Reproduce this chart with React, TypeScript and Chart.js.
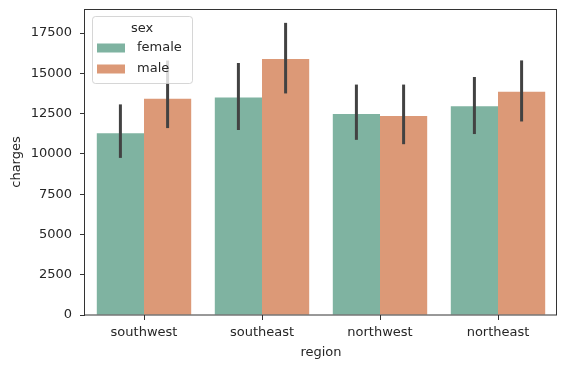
import React, { useEffect, useRef } from "react";
import { Chart, registerables } from "chart.js";

Chart.register(...registerables);

const categories = ["southwest", "southeast", "northwest", "northeast"];
const femaleMeans = [11274, 13500, 12479, 12953];
const maleMeans = [13413, 15880, 12354, 13855];
const femaleLow = [9750, 11480, 10870, 11230];
const femaleHigh = [13070, 15640, 14300, 14770];
const maleLow = [11600, 13750, 10600, 12010];
const maleHigh = [15790, 18130, 14300, 15800];
const yTicks = [0, 2500, 5000, 7500, 10000, 12500, 15000, 17500];
const seriesLabels = ["female", "male"];
const legendTitle = "sex";

const FEMALE = "#7fb3a1";
const MALE = "#dc9977";
const FONT = "DejaVu Sans";
const TEXT = "#262626";

const errorBars = {
  id: "errorBars",
  afterDatasetsDraw(chart: any) {
    const ctx = chart.ctx;
    const y = chart.scales.y;
    const lows = [femaleLow, maleLow];
    const highs = [femaleHigh, maleHigh];
    ctx.save();
    ctx.strokeStyle = "#424242";
    ctx.lineWidth = 3;
    ctx.lineCap = "butt";
    for (let d = 0; d < 2; d++) {
      const meta = chart.getDatasetMeta(d);
      meta.data.forEach((el: any, j: number) => {
        ctx.beginPath();
        ctx.moveTo(el.x, y.getPixelForValue(lows[d][j]));
        ctx.lineTo(el.x, y.getPixelForValue(highs[d][j]));
        ctx.stroke();
      });
    }
    ctx.restore();
  },
};

const frameAndLegend = {
  id: "frameAndLegend",
  afterDraw(chart: any) {
    const ctx = chart.ctx;
    const a = chart.chartArea;
    ctx.save();
    ctx.strokeStyle = "#333333";
    ctx.lineWidth = 1;
    ctx.strokeRect(Math.round(a.left) - 0.5, Math.round(a.top) + 0.5, Math.round(a.right - a.left), Math.round(a.bottom - a.top) - 0.5);

    // legend
    const lx = a.left + 7, ly = a.top + 7, lw = 100, lh = 67;
    ctx.beginPath();
    (ctx as any).roundRect(lx + 0.5, ly + 0.5, lw, lh, 3);
    ctx.fillStyle = "rgba(255,255,255,0.8)";
    ctx.fill();
    ctx.strokeStyle = "rgba(204,204,204,0.8)";
    ctx.stroke();
    ctx.fillStyle = TEXT;
    ctx.font = `13px "${FONT}"`;
    ctx.textBaseline = "middle";
    ctx.textAlign = "center";
    ctx.fillText(legendTitle, lx + 50, ly + 13);
    ctx.textAlign = "left";
    const colors = [FEMALE, MALE];
    seriesLabels.forEach((lab, i) => {
      const cy = ly + 32 + i * 21;
      ctx.fillStyle = colors[i];
      ctx.fillRect(lx + 5, cy - 4.5, 28, 9);
      ctx.fillStyle = TEXT;
      ctx.fillText(lab, lx + 45, cy);
    });
    ctx.restore();
  },
};

export default function App() {
  const ref = useRef<HTMLCanvasElement>(null);
  useEffect(() => {
    document.body.style.margin = "0";
    const chart = new Chart(ref.current!, {
      type: "bar",
      data: {
        labels: categories,
        datasets: [
          { label: seriesLabels[0], data: femaleMeans, backgroundColor: FEMALE, borderWidth: 0, categoryPercentage: 0.8, barPercentage: 1.0 },
          { label: seriesLabels[1], data: maleMeans, backgroundColor: MALE, borderWidth: 0, categoryPercentage: 0.8, barPercentage: 1.0 },
        ],
      },
      options: {
        animation: false,
        responsive: false,
        devicePixelRatio: 1,
        layout: { padding: { left: 0, top: 9, right: 9, bottom: 0 } },
        plugins: { legend: { display: false }, tooltip: { enabled: false } },
        scales: {
          x: {
            grid: { drawOnChartArea: false, drawTicks: true, tickLength: 5, color: "#333333", offset: false },
            border: { display: false },
            ticks: { color: TEXT, font: { family: FONT, size: 13 }, padding: 5, maxRotation: 0 },
            title: { display: true, text: "region", color: TEXT, font: { family: FONT, size: 13 }, padding: { top: 0, bottom: 8 } },
            afterFit(scale: any) { scale.height = 53; scale.paddingLeft = 0; scale.paddingRight = 0; },
          },
          y: {
            min: 0,
            max: 18990,
            grid: { drawOnChartArea: false, drawTicks: true, tickLength: 5, color: "#333333" },
            border: { display: false },
            ticks: { color: TEXT, font: { family: FONT, size: 13 }, padding: 8, callback: (v: any) => String(v) },
            afterBuildTicks(scale: any) { scale.ticks = yTicks.map((v) => ({ value: v })); },
            title: { display: true, text: "charges", color: TEXT, font: { family: FONT, size: 13 }, padding: { top: 9, bottom: 0 } },
            afterFit(scale: any) { scale.width = 85; scale.paddingTop = 0; scale.paddingBottom = 0; },
          },
        },
      },
      plugins: [errorBars, frameAndLegend],
    });
    return () => chart.destroy();
  }, []);
  return (
    <div style={{ position: "fixed", left: 0, top: 0, width: 566, height: 368 }}>
      <canvas ref={ref} width={566} height={368} />
    </div>
  );
}
